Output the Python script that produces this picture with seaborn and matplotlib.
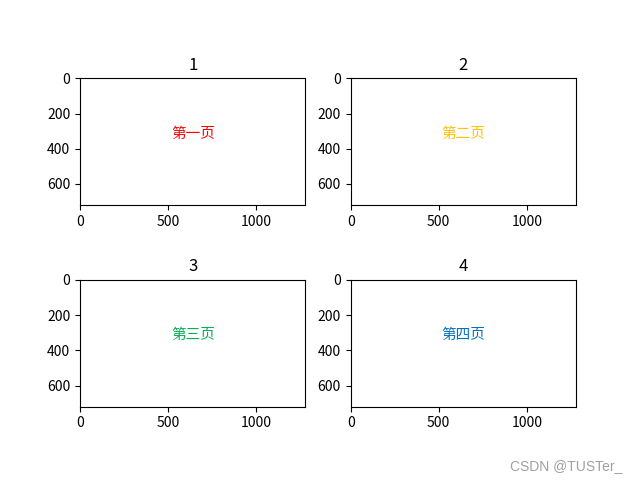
import numpy as np
import matplotlib
matplotlib.use("Agg")
import matplotlib.pyplot as plt
import seaborn as sns

# Datos: títulos, textos y colores de cada página
titulos = ["1", "2", "3", "4"]
textos = ["第一页", "第二页", "第三页", "第四页"]
colores = sns.color_palette(["#FF0000", "#FFC000", "#00B050", "#0070C0"])
alto_img, ancho_img = 720, 1280

plt.rcParams['font.family'] = ['Noto Sans CJK SC', 'DejaVu Sans']
plt.rcParams['axes.unicode_minus'] = False

fig = plt.figure(figsize=(6.4, 4.8), dpi=100)
imagen = np.ones((alto_img, ancho_img, 3))
for i in range(4):
    ax = fig.add_subplot(2, 2, i + 1)
    ax.imshow(imagen)
    ax.set_title(titulos[i])
    ax.text(ancho_img / 2, alto_img / 2 - 22, textos[i], color=colores[i],
            ha="center", fontsize=10.5)

fig.text(0.973, 0.02, "CSDN @TUSTer_", color="#a0a0a0", fontsize=10,
         ha="right", family=['Liberation Sans', 'DejaVu Sans'])
fig.savefig("out.png", dpi=100)
